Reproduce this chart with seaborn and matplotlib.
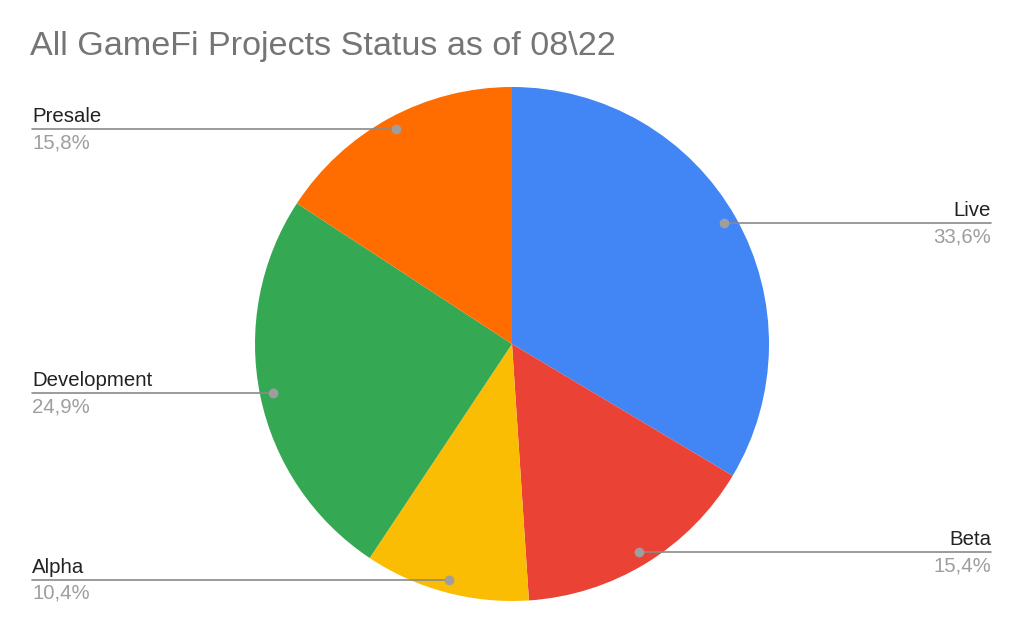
import numpy as np
import matplotlib
matplotlib.use("Agg")
import matplotlib.pyplot as plt
import seaborn as sns

sns.set_style("white")
plt.rcParams['font.family'] = ['Liberation Sans', 'DejaVu Sans']

# data
statuses = ["Live", "Beta", "Alpha", "Development", "Presale"]
shares = [33.6, 15.4, 10.4, 24.9, 15.8]
colors = ["#4285F4", "#EA4335", "#FBBC04", "#34A853", "#FF6D01"]
title = "All GameFi Projects Status as of 08\\22"

W, H = 1024, 633
fig = plt.figure(figsize=(W / 100, H / 100), dpi=100)
ax = fig.add_axes([0, 0, 1, 1])

cx, cy, R = 512, H - 344, 257
wedges, _ = ax.pie(shares, colors=colors, startangle=90, counterclock=False,
                   center=(cx, cy), radius=R, wedgeprops=dict(linewidth=0),
                   frame=True)
ax.set_xlim(0, W)
ax.set_ylim(0, H)
ax.set_aspect("equal")
ax.axis("off")

fig.text(30 / W, 1 - 47 / H, title, fontsize=24.6, color="#757575",
         va="center", ha="left")

for w, name, val in zip(wedges, statuses, shares):
    mid = np.deg2rad((w.theta1 + w.theta2) / 2)
    dx, dy = cx + 0.95 * R * np.cos(mid), cy + 0.95 * R * np.sin(mid)
    left = np.cos(mid) < 0
    ex = 32 if left else 991
    ax.plot([ex, dx], [dy, dy], color="#8a8a8a", lw=1.2, zorder=3)
    ax.plot(dx, dy, "o", color="#9e9e9e", ms=6, zorder=4)
    ha = "left" if left else "right"
    ax.text(ex, dy + 3, name, ha=ha, va="bottom", fontsize=14.7, color="#222222")
    ax.text(ex, dy - 4, f"{val:.1f}%".replace(".", ","), ha=ha, va="top",
            fontsize=14.7, color="#9e9e9e")

fig.savefig("out.png", dpi=100, facecolor="white")
